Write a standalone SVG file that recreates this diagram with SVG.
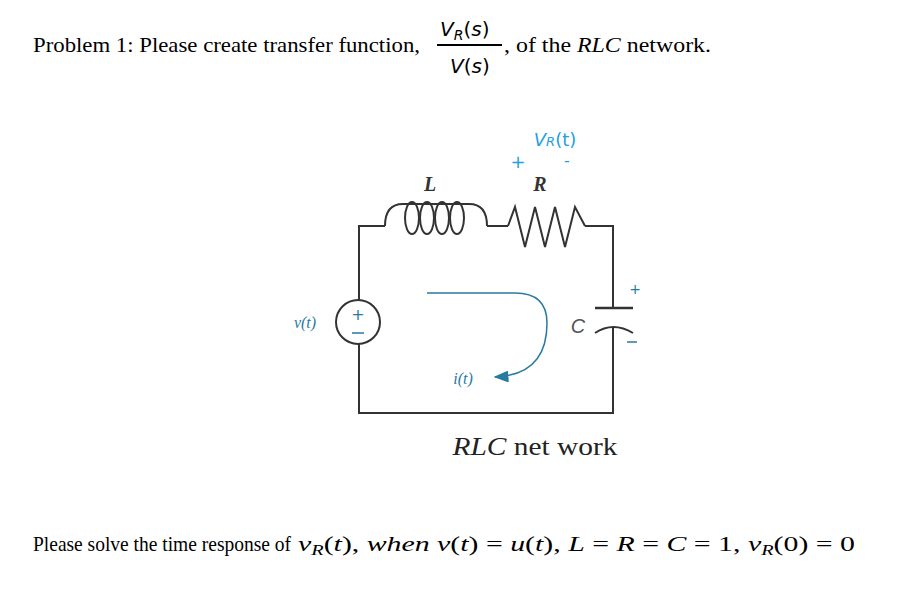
<svg xmlns="http://www.w3.org/2000/svg" width="906" height="608" viewBox="0 0 906 608">
<style>
.t{font-family:"Liberation Serif",serif;font-size:22px;fill:#000}
.m{font-family:"DejaVu Sans",sans-serif;font-style:italic;font-size:20px;fill:#000}
.w{fill:none;stroke:#333;stroke-width:2}
.b{fill:#2a7aa0;font-family:"Liberation Serif",serif;font-style:italic}
.c{fill:#22a0e0;font-family:"DejaVu Sans",sans-serif}
</style>
<defs><marker id="ar" markerWidth="10" markerHeight="8" refX="9" refY="4" orient="auto"><path d="M0,0L10,4L0,8z" fill="#2a7aa0"/></marker></defs>
<rect width="906" height="608" fill="#fff"/>
<g id="title">
<text class="t" x="33" y="52" textLength="387" lengthAdjust="spacingAndGlyphs">Problem 1: Please create transfer function,</text>
<text class="m" x="440" y="36">V<tspan font-size="14" dy="4">R</tspan><tspan dy="-4" font-style="normal">(</tspan>s<tspan font-style="normal">)</tspan></text>
<line x1="437" y1="45" x2="502" y2="45" stroke="#000" stroke-width="2"/>
<text class="m" x="450" y="73">V<tspan font-style="normal">(</tspan>s<tspan font-style="normal">)</tspan></text>
<text class="t" x="504" y="52" textLength="207" lengthAdjust="spacingAndGlyphs">, of the <tspan font-style="italic">RLC</tspan> network.</text>
</g>
<g id="connectors">
<path class="w" d="M359,300V226H385 M487,226H508 M585,226H613V308 M359,344V413H613V327"/>
</g>
<g id="inductor">
<path class="w" d="M385,226 q0,-22 18,-22 h66 q18,0 18,22"/>
<ellipse class="w" cx="412" cy="218" rx="7" ry="16"/>
<ellipse class="w" cx="427" cy="218" rx="7" ry="16"/>
<ellipse class="w" cx="442" cy="218" rx="7" ry="16"/>
<ellipse class="w" cx="457" cy="218" rx="7" ry="16"/>
<text x="430" y="191" font-family="Liberation Serif,serif" font-style="italic" font-weight="bold" font-size="20" text-anchor="middle" fill="#333">L</text>
</g>
<g id="resistor">
<polyline class="w" points="508,226 515,207 525,247 535,207 545,247 555,207 565,247 575,207 585,226"/>
<text x="540" y="191" font-family="Liberation Serif,serif" font-style="italic" font-weight="bold" font-size="20" text-anchor="middle" fill="#333">R</text>
<text class="c" x="555" y="146" font-size="18" text-anchor="middle"><tspan font-style="italic">V</tspan><tspan font-size="13" font-style="italic">R</tspan>(t)</text>
<text class="c" x="518" y="168" font-size="18" text-anchor="middle">+</text>
<text class="c" x="567" y="166" font-size="16" text-anchor="middle">-</text>
</g>
<g id="source">
<circle class="w" cx="358" cy="322" r="22"/>
<text x="358" y="320" font-family="DejaVu Sans,sans-serif" font-size="16" text-anchor="middle" fill="#2a7aa0">+</text>
<line x1="352" y1="333" x2="364" y2="333" stroke="#2a7aa0" stroke-width="1.5"/>
<text class="b" x="305" y="328" font-size="16" text-anchor="middle">v(t)</text>
</g>
<g id="capacitor">
<line x1="595" y1="308" x2="633" y2="308" stroke="#333" stroke-width="2.5"/>
<path class="w" d="M595,333 q18,-12 38,0"/>
<text x="578" y="333" font-family="Liberation Sans,sans-serif" font-style="italic" font-size="20" text-anchor="middle" fill="#555">C</text>
<text x="635" y="294" font-family="DejaVu Sans,sans-serif" font-size="14" text-anchor="middle" fill="#2a7aa0">+</text>
<line x1="627" y1="342" x2="637" y2="342" stroke="#2a7aa0" stroke-width="1.5"/>
</g>
<g id="current">
<path d="M427,293H515 q32,0 32,30 q0,52 -52,54" fill="none" stroke="#2a7aa0" stroke-width="1.5" marker-end="url(#ar)"/>
<text class="b" x="463" y="384" font-size="16" text-anchor="middle">i(t)</text>
</g>
<text x="535" y="455" font-family="Liberation Serif,serif" font-size="26" text-anchor="middle" fill="#222" textLength="165" lengthAdjust="spacingAndGlyphs"><tspan font-style="italic">RLC</tspan> net work</text>
<text class="t" x="33" y="551" textLength="258" lengthAdjust="spacingAndGlyphs">Please solve the time response of</text>
<text class="t" x="298" y="551" font-size="23" font-style="italic" textLength="557" lengthAdjust="spacingAndGlyphs">v<tspan font-size="15" dy="4">R</tspan><tspan dy="-4" font-style="normal">(</tspan>t<tspan font-style="normal">), </tspan>when v<tspan font-style="normal">(</tspan>t<tspan font-style="normal">) = </tspan>u<tspan font-style="normal">(</tspan>t<tspan font-style="normal">), </tspan>L<tspan font-style="normal"> = </tspan>R<tspan font-style="normal"> = </tspan>C<tspan font-style="normal"> = 1, </tspan>v<tspan font-size="15" dy="4">R</tspan><tspan dy="-4" font-style="normal">(0) = 0</tspan></text>
</svg>
